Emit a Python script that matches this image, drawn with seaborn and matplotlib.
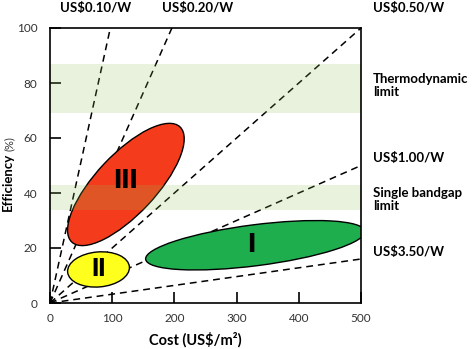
import numpy as np
import pandas as pd
import matplotlib
matplotlib.use("Agg")
import matplotlib.pyplot as plt
import seaborn as sns
from matplotlib.patches import Ellipse
from matplotlib.transforms import Affine2D, blended_transform_factory

# ---------------- data ----------------
price_labels = ["US$0.10/W", "US$0.20/W", "US$0.50/W", "US$1.00/W", "US$3.50/W"]
line_end_cost = [97, 196, 500, 500, 500]
line_end_eff = [100, 100, 100, 50, 16]

gen_names = ["I", "II", "III"]
gen_cost = [330, 78, 122]
gen_eff = [21, 12.2, 43.1]
gen_colors = ["#1fae4e", "#ffff1e", "#f43b1b"]

limit_names = ["Thermodynamic\nlimit", "Single bandgap\nlimit"]
limit_low = [69, 34]
limit_high = [87, 43]

x_ticks = [0, 100, 200, 300, 400, 500]
y_ticks = [0, 20, 40, 60, 80, 100]

# ---------------- style ----------------
sns.set_theme(style="white")
plt.rcParams["font.family"] = ["Lato", "DejaVu Sans"]

W, H, DPI = 474, 349, 100
fig = plt.figure(figsize=(W / DPI, H / DPI), dpi=DPI, facecolor="white")
ax = fig.add_axes([50 / W, 1 - 303 / H, 311 / W, 275 / H])

# dashed iso-price lines from origin
rows = []
for lab, c, e in zip(price_labels, line_end_cost, line_end_eff):
    rows.append({"price": lab, "cost": 0, "eff": 0})
    rows.append({"price": lab, "cost": c, "eff": e})
df_lines = pd.DataFrame(rows)
sns.lineplot(data=df_lines, x="cost", y="eff", units="price", estimator=None,
             color="black", linestyle=(0, (4.5, 3.2)), linewidth=1.1,
             legend=False, ax=ax, zorder=2)

ax.set_xlim(0, 500)
ax.set_ylim(0, 100)

# ellipse geometry (pixel sizes), drawn through data transform
ell_len = [221, 62, 158]
ell_wid = [41, 35, 60]
ell_ang = [7.3, 5, 46.8]
bb = ax.get_window_extent()
sx = bb.width / 500.0
sy = bb.height / 100.0
tr = Affine2D().scale(1 / sx, 1 / sy) + ax.transData
for c, e, L, Wd, A, col in zip(gen_cost, gen_eff, ell_len, ell_wid, ell_ang, gen_colors):
    ax.add_patch(Ellipse((c * sx, e * sy), L, Wd, angle=A, transform=tr,
                         facecolor=col, edgecolor="black", linewidth=1.0, zorder=3))

num_sizes = [19, 17, 19]
num_dx = [-6, 0, 0]
num_dy = [0.3, 0.3, 1.5]
for name, c, e, fs, dx, dy in zip(gen_names, gen_cost, gen_eff, num_sizes, num_dx, num_dy):
    ax.text(c + dx, e + dy, name, ha="center", va="center",
            fontsize=fs, fontweight="heavy", color="black", zorder=5)

# limit bands
for lo, hi in zip(limit_low, limit_high):
    ax.axhspan(lo, hi, color="#8cc152", alpha=0.2, linewidth=0, zorder=4)

# spines and ticks
for s in ax.spines.values():
    s.set_visible(True)
    s.set_color("black")
    s.set_linewidth(1.2)
    s.set_zorder(6)
ax.set_xticks(x_ticks)
ax.set_yticks(y_ticks)
ax.tick_params(axis="both", direction="in", length=8, width=1.2, color="black",
               labelsize=8.5, labelcolor="#333333", bottom=True, left=True)
ax.tick_params(axis="x", pad=7)
ax.tick_params(axis="y", pad=9)
ax.set_xlabel("")
ax.set_ylabel("")
ax.grid(False)

# labels outside the axes
bt = blended_transform_factory(ax.transAxes, ax.transData)
tkw = dict(fontsize=9.5, fontweight="bold", color="black", clip_on=False)
ax.text(74, 107.3, price_labels[0], ha="center", va="center", **tkw)
ax.text(238, 107.3, price_labels[1], ha="center", va="center", **tkw)
ax.text(1.039, 107.3, price_labels[2], transform=bt, ha="left", va="center", **tkw)
ax.text(1.039, 79.2, limit_names[0], transform=bt, ha="left", va="center",
        linespacing=1.1, **tkw)
ax.text(1.039, 52.7, price_labels[3], transform=bt, ha="left", va="center", **tkw)
ax.text(1.039, 37.8, limit_names[1], transform=bt, ha="left", va="center",
        linespacing=1.1, **tkw)
ax.text(1.039, 18.5, price_labels[4], transform=bt, ha="left", va="center", **tkw)

fig.text(195.5 / W, 1 - 340 / H, "Cost (US$/m²)", ha="center", va="center",
         fontsize=10.5, fontweight="bold", color="black")
t_eff = fig.text(8 / W, 1 - 211 / H, "Efficiency", ha="center", va="bottom", rotation=90,
                 fontsize=9.5, fontweight="bold", color="black")
fig.canvas.draw()
ext = t_eff.get_window_extent(renderer=fig.canvas.get_renderer())
fig.text(9 / W, (ext.y1 + 2) / H, "(%)", ha="center", va="bottom", rotation=90,
         fontsize=8, color="#333333")

fig.savefig("out.png", dpi=DPI, facecolor="white")
